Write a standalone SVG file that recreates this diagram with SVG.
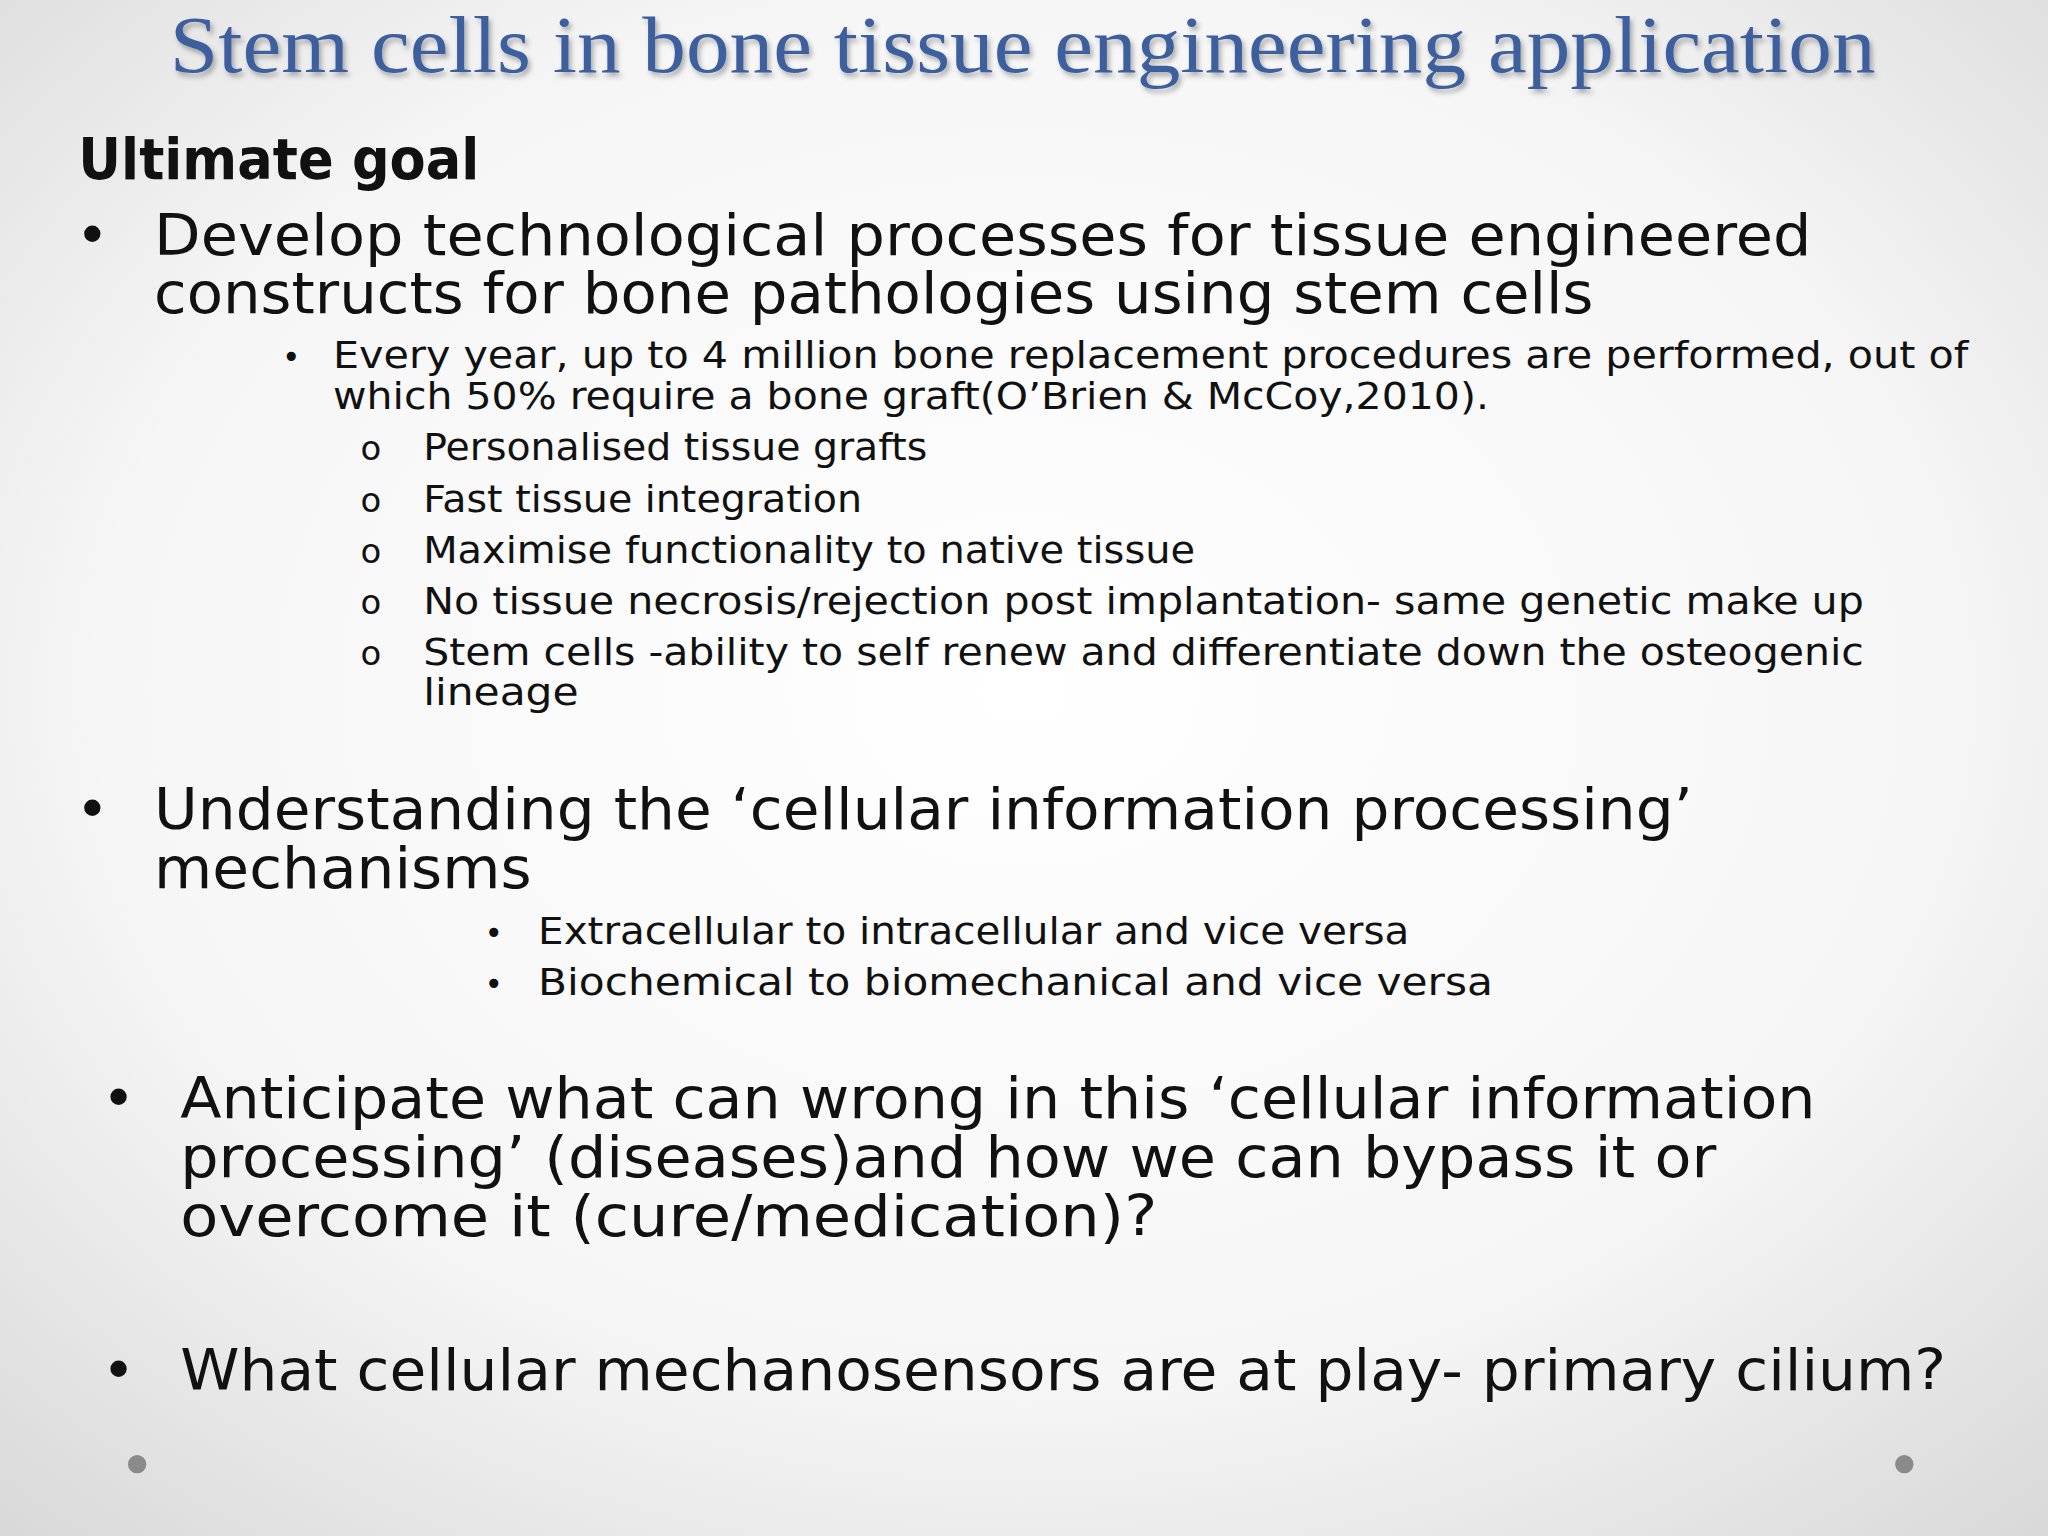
<svg xmlns="http://www.w3.org/2000/svg" width="2048" height="1536" viewBox="0 0 2048 1536">
<defs>
<radialGradient id="bg" cx="50%" cy="45%" r="75%">
<stop offset="0" stop-color="#ffffff"/><stop offset="0.6" stop-color="#f6f6f6"/><stop offset="1" stop-color="#d8d8d8"/>
</radialGradient>
<filter id="sh" x="-5%" y="-20%" width="110%" height="150%"><feDropShadow dx="2" dy="3" stdDeviation="2" flood-color="#000" flood-opacity="0.3"/></filter>
<style>
.t{font-family:"DejaVu Sans","Liberation Sans",sans-serif;fill:#111;}
.l1{font-size:43px;}
.l2{font-size:28px;}
.title{font-family:"Liberation Serif",serif;font-size:62px;fill:#3d5f9e;}
</style>
</defs>
<rect width="2048" height="1536" fill="url(#bg)"/>
<g transform="scale(1.30612)">
<text class="title" x="783" y="55" text-anchor="middle" textLength="1306" lengthAdjust="spacingAndGlyphs" filter="url(#sh)">Stem cells in bone tissue engineering application</text>
<text class="t" x="60" y="137" font-size="44" font-weight="bold" textLength="307" lengthAdjust="spacingAndGlyphs">Ultimate goal</text>
<g class="t l1">
<text x="58" y="195">•</text>
<text x="118" y="195" textLength="1269" lengthAdjust="spacingAndGlyphs">Develop technological processes for tissue engineered</text>
<text x="118" y="240" textLength="1102" lengthAdjust="spacingAndGlyphs">constructs for bone pathologies using stem cells</text>
<text x="58" y="635">•</text>
<text x="118" y="635" textLength="1178" lengthAdjust="spacingAndGlyphs">Understanding the ‘cellular information processing’</text>
<text x="118" y="680" textLength="289" lengthAdjust="spacingAndGlyphs">mechanisms</text>
<text x="78" y="856">•</text>
<text x="138" y="856" textLength="1252" lengthAdjust="spacingAndGlyphs">Anticipate what can wrong in this ‘cellular information</text>
<text x="138" y="901" textLength="1176" lengthAdjust="spacingAndGlyphs">processing’ (diseases)and how we can bypass it or</text>
<text x="138" y="946" textLength="748" lengthAdjust="spacingAndGlyphs">overcome it (cure/medication)?</text>
<text x="78" y="1064">•</text>
<text x="138" y="1064" textLength="1352" lengthAdjust="spacingAndGlyphs">What cellular mechanosensors are at play- primary cilium?</text>
</g>
<g class="t l2">
<text x="216" y="282" font-size="24">•</text>
<text x="255" y="282" textLength="1252" lengthAdjust="spacingAndGlyphs">Every year, up to 4 million bone replacement procedures are performed, out of</text>
<text x="255" y="313" textLength="885" lengthAdjust="spacingAndGlyphs">which 50% require a bone graft(O’Brien &amp; McCoy,2010).</text>
<text x="276" y="352" font-size="26">o</text><text x="324" y="352" textLength="386" lengthAdjust="spacingAndGlyphs">Personalised tissue grafts</text>
<text x="276" y="392" font-size="26">o</text><text x="324" y="392" textLength="336" lengthAdjust="spacingAndGlyphs">Fast tissue integration</text>
<text x="276" y="431" font-size="26">o</text><text x="324" y="431" textLength="591" lengthAdjust="spacingAndGlyphs">Maximise functionality to native tissue</text>
<text x="276" y="470" font-size="26">o</text><text x="324" y="470" textLength="1103" lengthAdjust="spacingAndGlyphs">No tissue necrosis/rejection post implantation- same genetic make up</text>
<text x="276" y="509" font-size="26">o</text><text x="324" y="509" textLength="1103" lengthAdjust="spacingAndGlyphs">Stem cells -ability to self renew and differentiate down the osteogenic</text>
<text x="324" y="540" textLength="119" lengthAdjust="spacingAndGlyphs">lineage</text>
<text x="371" y="723" font-size="24">•</text><text x="412" y="723" textLength="667" lengthAdjust="spacingAndGlyphs">Extracellular to intracellular and vice versa</text>
<text x="371" y="762" font-size="24">•</text><text x="412" y="762" textLength="731" lengthAdjust="spacingAndGlyphs">Biochemical to biomechanical and vice versa</text>
</g>
<circle cx="105" cy="1121" r="7" fill="#8a8a8a"/>
<circle cx="1458" cy="1121" r="7" fill="#8a8a8a"/>
</g>
</svg>
